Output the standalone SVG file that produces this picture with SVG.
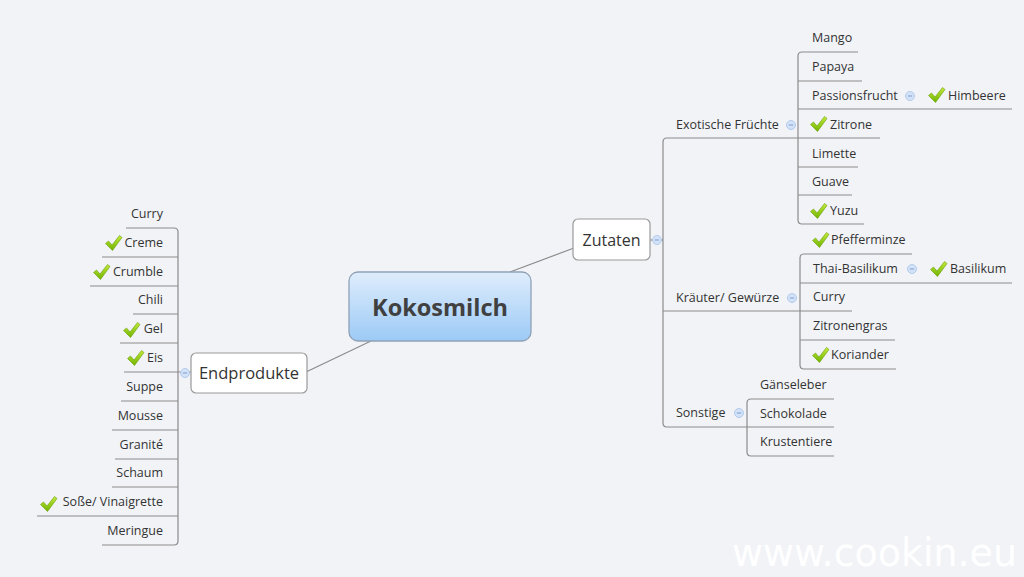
<svg xmlns="http://www.w3.org/2000/svg" xmlns:xlink="http://www.w3.org/1999/xlink" width="1024" height="577" viewBox="0 0 1024 577">
<style>
.t{font-family:"Open Sans","Noto Sans","Liberation Sans",sans-serif;font-size:12.5px;fill:#333}
.r{text-anchor:end}
.box{fill:#fff;stroke:#9a9a9a;stroke-width:1.2}
.mid{font-family:"Open Sans","Noto Sans","Liberation Sans",sans-serif;fill:#333;text-anchor:middle}
.ln{fill:none;stroke:#8c8c8c;stroke-width:1.2}
</style>
<defs>
<linearGradient id="cg" x1="0" y1="0" x2="0" y2="1">
<stop offset="0" stop-color="#dfedfc"/>
<stop offset="1" stop-color="#9ccaf6"/>
</linearGradient>
<linearGradient id="gg" x1="0" y1="0" x2="0" y2="1">
<stop offset="0" stop-color="#c4ea3a"/>
<stop offset="1" stop-color="#6fb300"/>
</linearGradient>
<g id="chk"><path d="M0.5,8.5 L3.5,6 L7,10 L14.5,0.5 L17,2.5 L7.5,15.5 Z" fill="url(#gg)" stroke="#6a9e0a" stroke-width="0.6" stroke-linejoin="round"/></g>
<g id="col"><circle cx="0" cy="0" r="4.5" fill="#d3e2f7" stroke="#a6c1e8" stroke-width="0.8"/><line x1="-2.2" y1="0" x2="2.2" y2="0" stroke="#7d9fd3" stroke-width="1"/></g>
</defs>
<rect width="1024" height="577" fill="#f2f3f7"/>

<g id="connectors">
<line class="ln" x1="510" y1="272" x2="574" y2="248"/>
<line class="ln" x1="371" y1="341" x2="306" y2="372"/>
<path class="ln" d="M126,228 H174 Q178,228 178,232 V541 Q178,545 174,545 H102"/>
<path class="ln" d="M102,257 H178 M90,286 H178 M133,314 H178 M120,343 H178 M124,372 H191 M121,401 H178 M112,430 H178 M115,459 H178 M112,487 H178 M37,516 H178"/>
<path class="ln" d="M650,240 H663"/>
<path class="ln" d="M880,138 H667 Q663,138 663,142 V423 Q663,427 667,427 H834"/>
<path class="ln" d="M663,311 H852"/>
<path class="ln" d="M858,52 H802 Q798,52 798,56 V220 Q798,224 802,224 H864"/>
<path class="ln" d="M798,81 H862 M798,109 H1012 M798,167 H858 M798,195 H852"/>
<path class="ln" d="M912,254 H804 Q800,254 800,258 V365 Q800,369 804,369 H896"/>
<path class="ln" d="M800,283 H1012 M800,340 H895"/>
<path class="ln" d="M834,399 H751 Q747,399 747,403 V452 Q747,456 751,456 H834"/>
</g>

<g id="n-kokosmilch">
<rect x="349" y="272" width="182" height="69" rx="9" fill="url(#cg)" stroke="#8fa1b6" stroke-width="1.3"/>
<text x="440" y="315.5" class="mid" font-size="23.5" font-weight="bold" style="fill:#404040">Kokosmilch</text>
</g>

<g id="n-zutaten">
<rect class="box" x="573" y="219" width="77" height="41" rx="5"/>
<text x="611.5" y="246" class="mid" font-size="16">Zutaten</text>
<use xlink:href="#col" x="657" y="240"/>
</g>

<g id="n-endprodukte">
<rect class="box" x="191" y="353" width="116" height="40" rx="5"/>
<text x="249" y="379" class="mid" font-size="16.5">Endprodukte</text>
<use xlink:href="#col" x="185" y="373"/>
</g>

<g id="left-items">
<text class="t r" x="163" y="218">Curry</text>
<g id="n-creme"><use xlink:href="#chk" x="105" y="235"/><text class="t r" x="163" y="247">Creme</text></g>
<g id="n-crumble"><use xlink:href="#chk" x="93" y="264"/><text class="t r" x="163" y="276">Crumble</text></g>
<text class="t r" x="163" y="304">Chili</text>
<g id="n-gel"><use xlink:href="#chk" x="123" y="322"/><text class="t r" x="163" y="333">Gel</text></g>
<g id="n-eis"><use xlink:href="#chk" x="127" y="350"/><text class="t r" x="163" y="362">Eis</text></g>
<text class="t r" x="163" y="391">Suppe</text>
<text class="t r" x="163" y="420">Mousse</text>
<text class="t r" x="163" y="449">Granité</text>
<text class="t r" x="163" y="477">Schaum</text>
<g id="n-sosse"><use xlink:href="#chk" x="40" y="496"/><text class="t r" x="163" y="506">Soße/ Vinaigrette</text></g>
<text class="t r" x="163" y="535">Meringue</text>
</g>

<g id="n-exotische">
<text class="t" x="676" y="129">Exotische Früchte</text>
<use xlink:href="#col" x="791" y="125"/>
<text class="t" x="812" y="42">Mango</text>
<text class="t" x="812" y="71">Papaya</text>
<text class="t" x="812" y="100">Passionsfrucht</text>
<use xlink:href="#col" x="910" y="96"/>
<g id="n-himbeere"><use xlink:href="#chk" x="928" y="87"/><text class="t" x="948" y="100">Himbeere</text></g>
<g id="n-zitrone"><use xlink:href="#chk" x="810" y="116"/><text class="t" x="830" y="129">Zitrone</text></g>
<text class="t" x="812" y="158">Limette</text>
<text class="t" x="812" y="186">Guave</text>
<g id="n-yuzu"><use xlink:href="#chk" x="810" y="203"/><text class="t" x="830" y="215">Yuzu</text></g>
</g>

<g id="n-kraeuter">
<text class="t" x="676" y="302">Kräuter/ Gewürze</text>
<use xlink:href="#col" x="792" y="298"/>
<g id="n-pfefferminze"><use xlink:href="#chk" x="812" y="232"/><text class="t" x="831" y="244">Pfefferminze</text></g>
<text class="t" x="813" y="273">Thai-Basilikum</text>
<use xlink:href="#col" x="912" y="269"/>
<g id="n-basilikum"><use xlink:href="#chk" x="930" y="261"/><text class="t" x="950" y="273">Basilikum</text></g>
<text class="t" x="813" y="301">Curry</text>
<text class="t" x="813" y="330">Zitronengras</text>
<g id="n-koriander"><use xlink:href="#chk" x="812" y="347"/><text class="t" x="831" y="359">Koriander</text></g>
</g>

<g id="n-sonstige">
<text class="t" x="676" y="417">Sonstige</text>
<use xlink:href="#col" x="739" y="413"/>
<text class="t" x="760" y="389">Gänseleber</text>
<text class="t" x="760" y="418">Schokolade</text>
<text class="t" x="760" y="446">Krustentiere</text>
</g>

<text x="732" y="566" font-family="DejaVu Sans, Verdana, sans-serif" font-size="39" fill="#ffffff" textLength="285" lengthAdjust="spacingAndGlyphs">www.cookin.eu</text>
</svg>
